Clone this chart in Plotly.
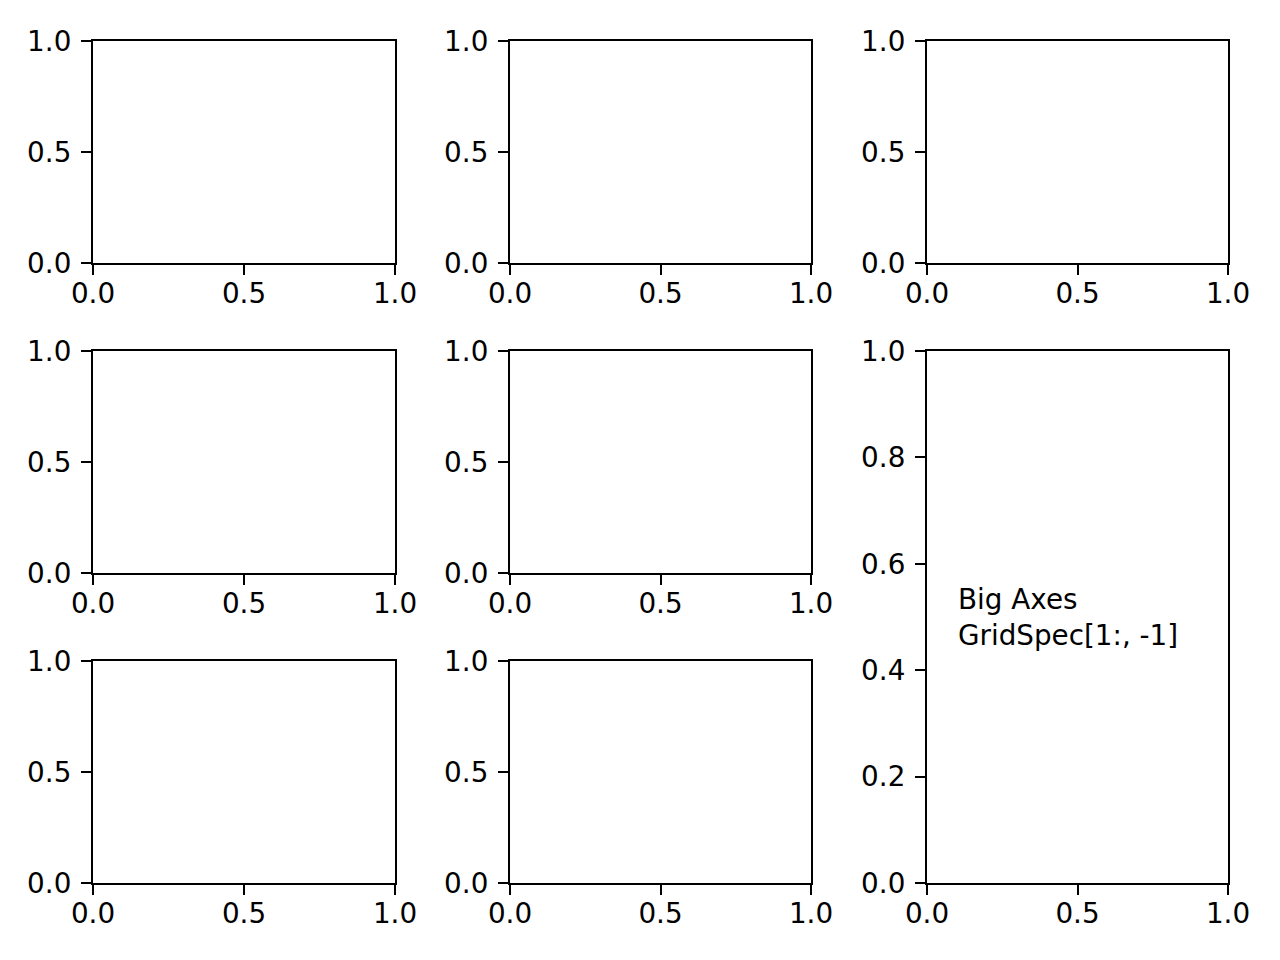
import plotly.graph_objects as go

W, H = 1280, 960
OFF = 8  # page body margin in the browser
FONT = dict(family="DejaVu Sans", size=27.8, color="black")

# tick values / labels
small_ticks = [0.0, 0.5, 1.0]
small_labels = ["0.0", "0.5", "1.0"]
big_yticks = [0.0, 0.2, 0.4, 0.6, 0.8, 1.0]
big_ylabels = ["0.0", "0.2", "0.4", "0.6", "0.8", "1.0"]
annotation_text = "Big Axes<br>GridSpec[1:, -1]"

# axes pixel boxes (left, right, top, bottom)
col_px = [(93, 395), (510, 811), (927, 1228)]
row_px = [(41, 263), (351, 573), (661, 883)]

panels = []
for r in range(3):
    for c in range(2):
        panels.append((col_px[c], row_px[r], False))
panels.append((col_px[2], row_px[0], False))
panels.append((col_px[2], (row_px[1][0], row_px[2][1]), True))

fig = go.Figure()
layout = dict(width=W, height=H, margin=dict(l=0, r=0, t=0, b=0, autoexpand=False),
              paper_bgcolor="white", plot_bgcolor="white", showlegend=False,
              font=FONT)

common = dict(showgrid=False, zeroline=False, showline=True, linecolor="black",
              linewidth=2.2, mirror=True, ticks="outside", ticklen=10,
              tickwidth=2.2, tickcolor="black", tickfont=FONT, range=[0, 1],
              fixedrange=True, automargin=False)

for i, ((x0, x1), (y0, y1), big) in enumerate(panels, start=1):
    sfx = "" if i == 1 else str(i)
    xd = [(x0 - OFF) / W, (x1 - OFF) / W]
    yd = [1 - (y1 - OFF) / H, 1 - (y0 - OFF) / H]
    layout["xaxis" + sfx] = dict(domain=xd, anchor="y" + sfx, ticklabelstandoff=-5,
                                 tickvals=small_ticks, ticktext=small_labels, **common)
    yt = big_yticks if big else small_ticks
    yl = big_ylabels if big else small_labels
    layout["yaxis" + sfx] = dict(domain=yd, anchor="x" + sfx, ticklabelstandoff=4,
                                 tickvals=yt, ticktext=yl, **common)
    fig.add_trace(go.Scatter(x=[], y=[], xaxis="x" + sfx, yaxis="y" + sfx))

fig.update_layout(**layout)
fig.add_annotation(x=0.1, y=0.5, xref="x8", yref="y8", text=annotation_text,
                   showarrow=False, xanchor="left", yanchor="middle", align="left",
                   font=FONT, borderpad=0)

fig.write_html("out.html")
